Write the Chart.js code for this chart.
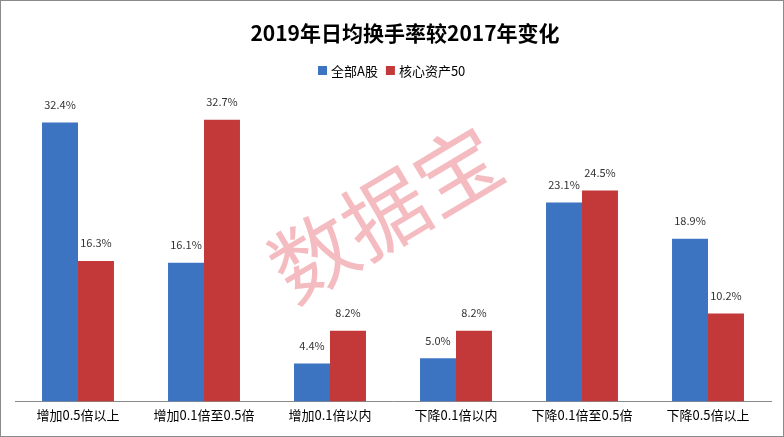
<!DOCTYPE html>
<html>
<head>
<meta charset="utf-8">
<script src="https://cdn.jsdelivr.net/npm/chart.js@4.4.0/dist/chart.umd.min.js"></script>
<style>
  html, body { margin: 0; padding: 0; background: #fff; }
  #wrap { width: 784px; height: 437px; position: relative; }
</style>
</head>
<body>
<div id="wrap"><canvas id="myChart" width="784" height="437"></canvas></div>
<script>
const categories = ["增加0.5倍以上", "增加0.1倍至0.5倍", "增加0.1倍以内", "下降0.1倍以内", "下降0.1倍至0.5倍", "下降0.5倍以上"];
const allA = [32.4, 16.1, 4.4, 5.0, 23.1, 18.9];
const core50 = [16.3, 32.7, 8.2, 8.2, 24.5, 10.2];
const seriesNames = ["全部A股", "核心资产50"];
const titleText = "2019年日均换手率较2017年变化";
const watermark = "数据宝";

const FONT = "'Noto Sans CJK SC', 'Noto Sans', sans-serif";
const blue = "#3C74C2";
const red = "#C3393A";

// title, legend, watermark, value labels and frame drawn by hand
const decor = {
  id: "decor",
  beforeDraw(chart) {
    const ctx = chart.ctx;
    ctx.save();
    ctx.fillStyle = "#fff";
    ctx.fillRect(0, 0, chart.width, chart.height);
    // watermark
    ctx.translate(385, 213);
    ctx.rotate(-31 * Math.PI / 180);
    ctx.fillStyle = "rgba(240,160,165,0.7)";
    ctx.font = "84px " + FONT;
    ctx.textAlign = "center";
    ctx.textBaseline = "middle";
    ctx.fillText(watermark, 0, 0);
    ctx.restore();
  },
  afterDraw(chart) {
    const ctx = chart.ctx;
    ctx.save();
    // title
    ctx.fillStyle = "#000";
    ctx.font = "bold 21px " + FONT;
    ctx.textAlign = "center";
    ctx.textBaseline = "middle";
    ctx.fillText(titleText, 405, 33);

    // legend
    ctx.font = "13px " + FONT;
    ctx.textAlign = "left";
    let x = 318;
    [blue, red].forEach((c, i) => {
      ctx.fillStyle = c;
      ctx.fillRect(x, 66, 9, 9);
      ctx.fillStyle = "#000";
      ctx.fillText(seriesNames[i], x + 13, 71);
      x += 13 + ctx.measureText(seriesNames[i]).width + 8;
    });

    // value labels
    ctx.font = "11px " + FONT;
    ctx.fillStyle = "#333";
    ctx.textAlign = "center";
    ctx.textBaseline = "middle";
    chart.data.datasets.forEach((ds, di) => {
      chart.getDatasetMeta(di).data.forEach((bar, i) => {
        ctx.fillText(ds.data[i].toFixed(1) + "%", bar.x, bar.y - 18);
      });
    });

    // outer frame
    ctx.strokeStyle = "#8a8a8a";
    ctx.lineWidth = 1;
    ctx.strokeRect(0.5, 0.5, chart.width - 1, chart.height - 1);
    ctx.restore();
  }
};

new Chart(document.getElementById("myChart"), {
  type: "bar",
  data: {
    labels: categories,
    datasets: [
      { label: seriesNames[0], data: allA, backgroundColor: blue },
      { label: seriesNames[1], data: core50, backgroundColor: red },
    ],
  },
  options: {
    responsive: false,
    animation: false,
    devicePixelRatio: 1,
    layout: { padding: { top: 100, bottom: 8, left: 15, right: 13 } },
    datasets: { bar: { categoryPercentage: 0.571, barPercentage: 1.0 } },
    plugins: {
      legend: { display: false },
      title: { display: false },
      tooltip: { enabled: false },
    },
    scales: {
      x: {
        grid: { display: false, drawTicks: false },
        border: { display: true, color: "#8a8a8a", width: 1 },
        ticks: { color: "#000", font: { family: FONT, size: 13 }, padding: 6, maxRotation: 0, autoSkip: false },
      },
      y: {
        display: false,
        min: 0,
        max: 35,
      },
    },
  },
  plugins: [decor],
});
</script>
</body>
</html>
